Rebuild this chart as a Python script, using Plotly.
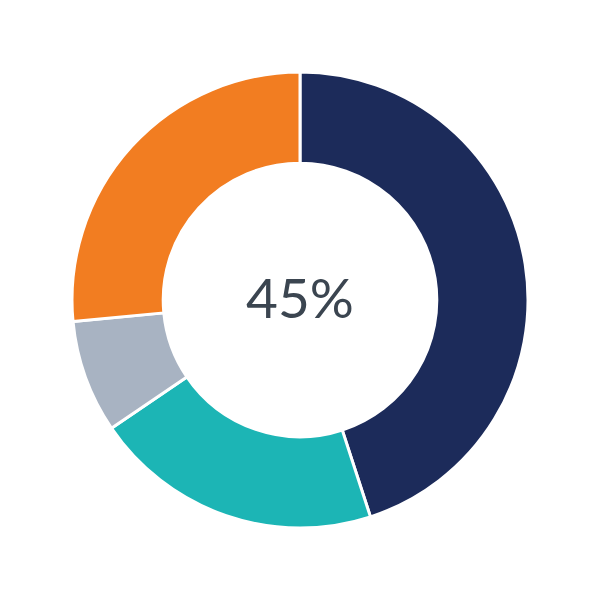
import plotly.graph_objects as go

# données du donut
labels = ["Segment A", "Segment B", "Segment C", "Segment D"]
values = [45, 20.5, 8, 26.5]
colors = ["#1c2b5a", "#1cb5b5", "#a8b3c2", "#f27d21"]
center_text = "45%"

fig = go.Figure()
fig.add_trace(
    go.Pie(
        labels=labels,
        values=values,
        hole=0.6,
        sort=False,
        direction="clockwise",
        rotation=0,
        textinfo="none",
        hoverinfo="label+percent",
        marker=dict(colors=colors, line=dict(color="#ffffff", width=3)),
    )
)

# la page ajoute ~8px de marge, on compense
fig.update_layout(
    width=600,
    height=600,
    showlegend=False,
    paper_bgcolor="#ffffff",
    plot_bgcolor="#ffffff",
    margin=dict(l=64, r=80, t=64, b=80),
    annotations=[
        dict(
            text=center_text,
            x=0.5,
            y=0.5,
            xref="paper",
            yref="paper",
            yshift=3,
            showarrow=False,
            font=dict(family="Lato", size=55, color="#3b4550"),
        )
    ],
)

fig.write_html("out.html")
